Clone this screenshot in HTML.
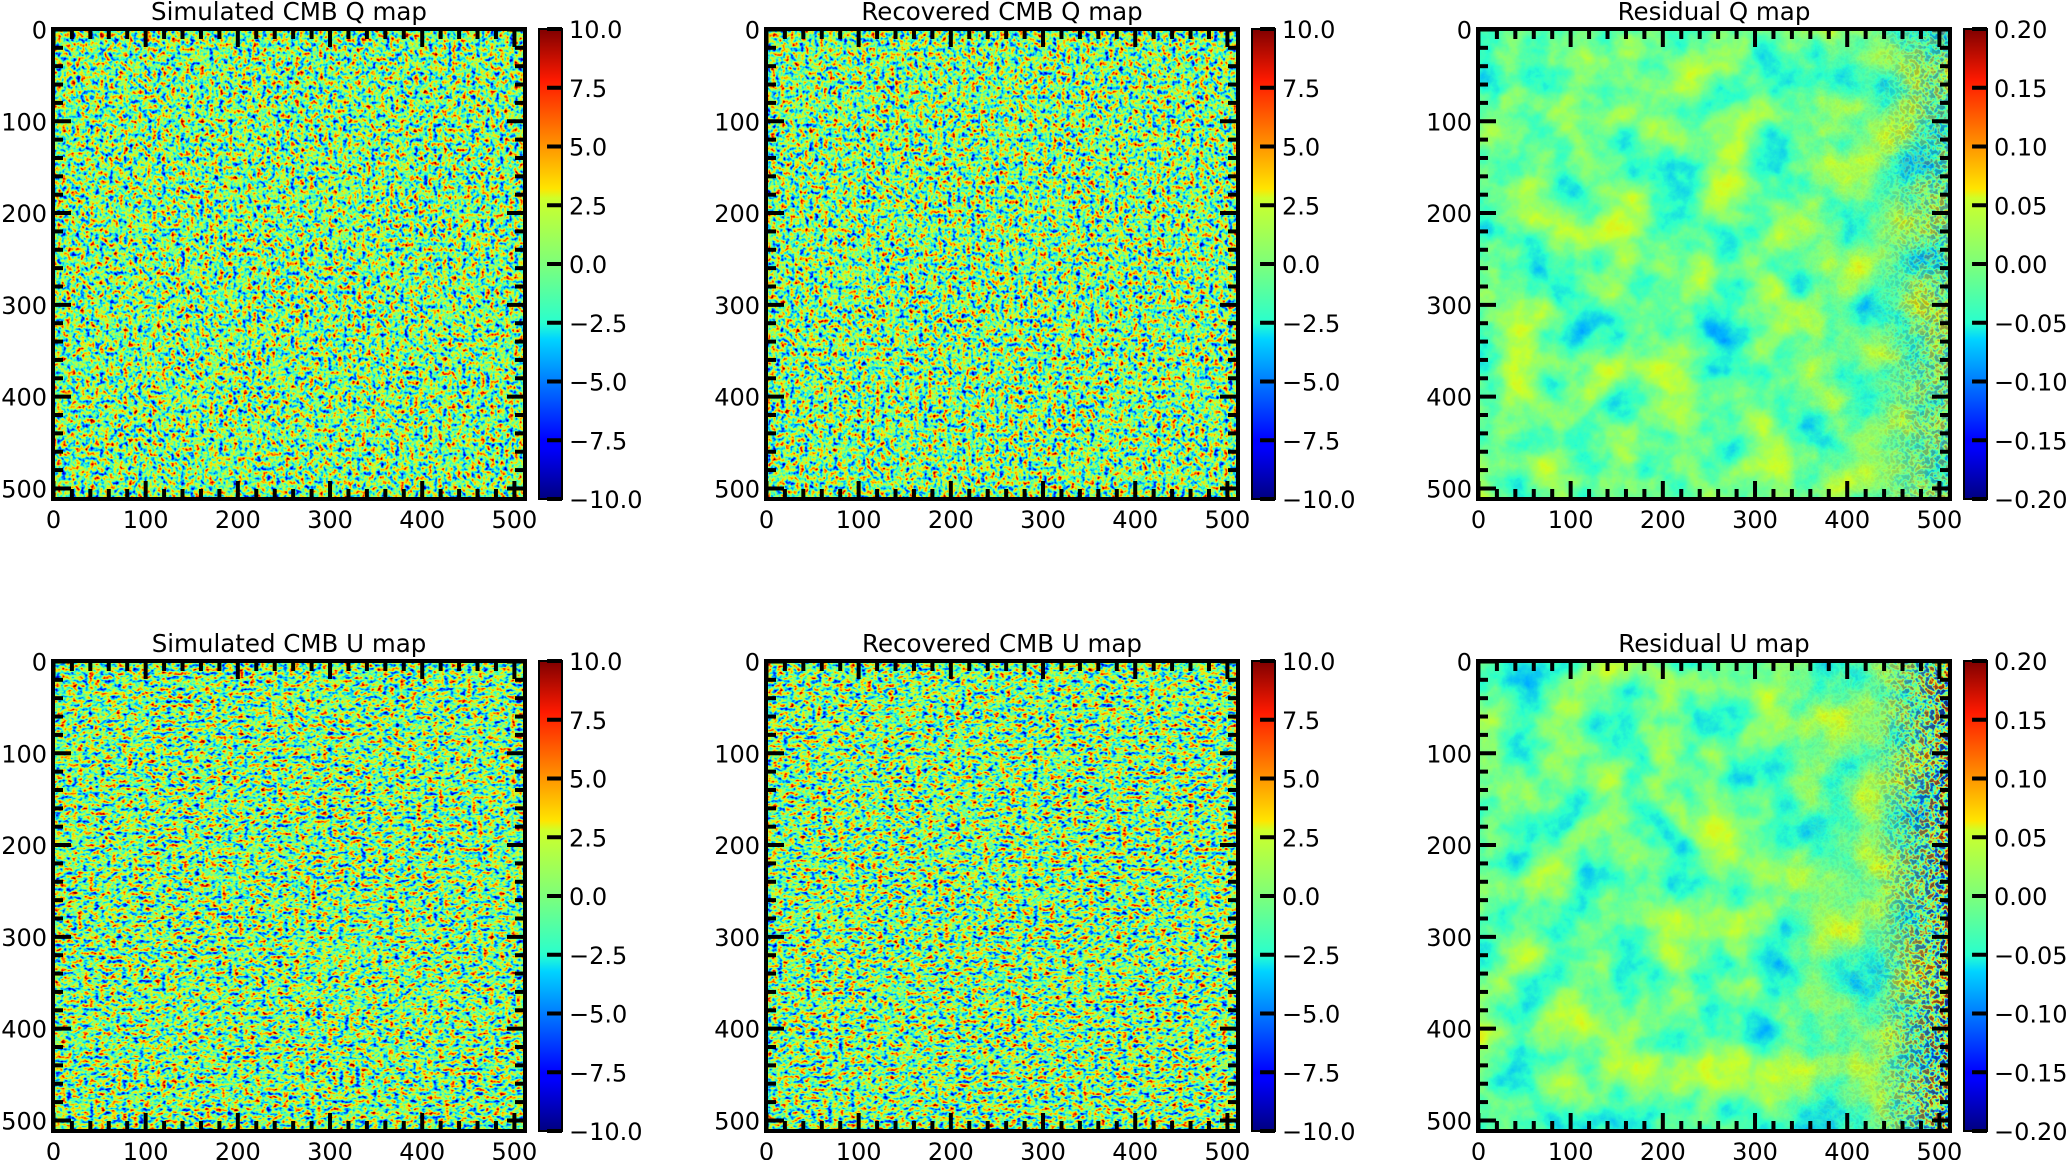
<!DOCTYPE html>
<html><head><meta charset="utf-8">
<style>
html,body{margin:0;padding:0;background:#fff;}
svg{display:block;}
text{font-family:"DejaVu Sans","Liberation Sans",sans-serif;fill:#000;}
</style></head>
<body>
<svg id="s" width="2070" height="1160" xmlns="http://www.w3.org/2000/svg">
<defs>
<linearGradient id="jet" x1="0" y1="1" x2="0" y2="0">
<stop offset="0" stop-color="#000080"/><stop offset="0.11" stop-color="#0000ff"/>
<stop offset="0.125" stop-color="#0000ff"/><stop offset="0.34" stop-color="#00d4ff"/>
<stop offset="0.375" stop-color="#29ffce"/><stop offset="0.5" stop-color="#7dff7a"/>
<stop offset="0.64" stop-color="#ceff29"/><stop offset="0.66" stop-color="#ffe500"/>
<stop offset="0.89" stop-color="#ff1a00"/><stop offset="1" stop-color="#800000"/>
</linearGradient>
<linearGradient id="edge" x1="0" y1="0" x2="1" y2="0">
<stop offset="0" stop-color="#fff" stop-opacity="0"/><stop offset="0.6" stop-color="#fff" stop-opacity="0.1"/><stop offset="1" stop-color="#fff" stop-opacity="1"/>
</linearGradient>
<mask id="edgeMask" maskContentUnits="objectBoundingBox"><rect x="0" y="0" width="1" height="1" fill="url(#edge)"/></mask>
</defs>
<g id="g"></g>
</svg>
<script>
var NS="http://www.w3.org/2000/svg";
var defs=document.querySelector("defs"), G=document.getElementById("g");
function el(t,a,p){var e=document.createElementNS(NS,t);for(var k in a)e.setAttribute(k,a[k]);(p||G).appendChild(e);return e;}
var jetR="0 0 0 0 0.16 0.5 0.8 1 1 0.95 0.5",
    jetG="0 0 0.3 0.7 1 1 1 0.85 0.45 0.05 0",
    jetB="0.5 0.95 1 1 0.8 0.5 0.16 0 0 0 0";
function mkFilter(id,freq,oct,seed,slope,icpt){
  var f=el("filter",{id:id,x:"0",y:"0",width:"1",height:"1","color-interpolation-filters":"sRGB"},defs);
  el("feTurbulence",{type:"fractalNoise",baseFrequency:freq,numOctaves:oct,seed:seed,result:"n"},f);
  el("feColorMatrix",{type:"matrix",values:"1 0 0 0 0 1 0 0 0 0 1 0 0 0 0 0 0 0 0 1"},f);
  var c=el("feComponentTransfer",{},f);
  ["R","G","B"].forEach(function(ch){el("feFunc"+ch,{type:"linear",slope:slope,intercept:icpt},c);});
  el("feFuncA",{type:"linear",slope:0,intercept:1},c);
  var c2=el("feComponentTransfer",{},f);
  el("feFuncR",{type:"table",tableValues:jetR},c2);
  el("feFuncG",{type:"table",tableValues:jetG},c2);
  el("feFuncB",{type:"table",tableValues:jetB},c2);
}
mkFilter("cmb1","0.21","2",3,1.4,-0.19);
mkFilter("cmb2","0.21","2",3,1.4,-0.19);
mkFilter("cmb3","0.18 0.25","2",11,1.4,-0.19);
mkFilter("cmb4","0.18 0.25","2",11,1.4,-0.19);
mkFilter("res1","0.02","6",5,0.45,0.25);
mkFilter("res2","0.02","6",9,0.45,0.25);
mkFilter("edgeN","0.2","2",21,2.8,-0.9);

var cols=[53,766,1478], rows=[29,661], W=472, H=470;
var titles=[["Simulated CMB Q map","Recovered CMB Q map","Residual Q map"],
            ["Simulated CMB U map","Recovered CMB U map","Residual U map"]];
var cbl=[["10.0","7.5","5.0","2.5","0.0","\u22122.5","\u22125.0","\u22127.5","\u221210.0"],
         ["0.20","0.15","0.10","0.05","0.00","\u22120.05","\u22120.10","\u22120.15","\u22120.20"]];
var filt=[["cmb1","cmb2","res1"],["cmb3","cmb4","res2"]];
for(var r=0;r<2;r++)for(var c=0;c<3;c++){
  var x0=cols[c],y0=rows[r];
  el("rect",{x:x0,y:y0,width:W,height:H,filter:"url(#"+filt[r][c]+")"});
  if(c==2){
    el("rect",{x:x0+W*0.6,y:y0,width:W*0.4,height:H,filter:"url(#edgeN)",mask:"url(#edgeMask)",opacity:r==1?0.85:0.4});
  }
  el("rect",{x:x0,y:y0,width:W,height:H,fill:"none",stroke:"#000","stroke-width":4});
  var t=el("text",{x:x0+W/2,y:y0-9,"text-anchor":"middle","font-size":24.5});t.textContent=titles[r][c];
  for(var v=0;v<=500;v+=20){
    var L=(v%100==0)?18:10;
    var px=x0+(v+0.5)*W/512, py=y0+(v+0.5)*H/512;
    el("line",{x1:px,y1:y0,x2:px,y2:y0+L,stroke:"#000","stroke-width":4});
    el("line",{x1:px,y1:y0+H,x2:px,y2:y0+H-L,stroke:"#000","stroke-width":4});
    el("line",{x1:x0,y1:py,x2:x0+L,y2:py,stroke:"#000","stroke-width":4});
    el("line",{x1:x0+W,y1:py,x2:x0+W-L,y2:py,stroke:"#000","stroke-width":4});
    if(v%100==0){
      var a=el("text",{x:px,y:y0+H+29,"text-anchor":"middle","font-size":24});a.textContent=v;
      var b=el("text",{x:x0-6,y:py+9,"text-anchor":"end","font-size":24});b.textContent=v;
    }
  }
  var cx=x0+W+14, cw=23;
  el("rect",{x:cx,y:y0,width:cw,height:H,fill:"url(#jet)",stroke:"#000","stroke-width":2});
  for(var i=0;i<9;i++){
    var ty=y0+i*H/8;
    el("line",{x1:cx+cw*0.35,y1:ty,x2:cx+cw,y2:ty,stroke:"#000","stroke-width":4});
    var l=el("text",{x:cx+cw+7,y:ty+9,"font-size":24});l.textContent=cbl[c==2?1:0][i];
  }
}
</script>
</body></html>
